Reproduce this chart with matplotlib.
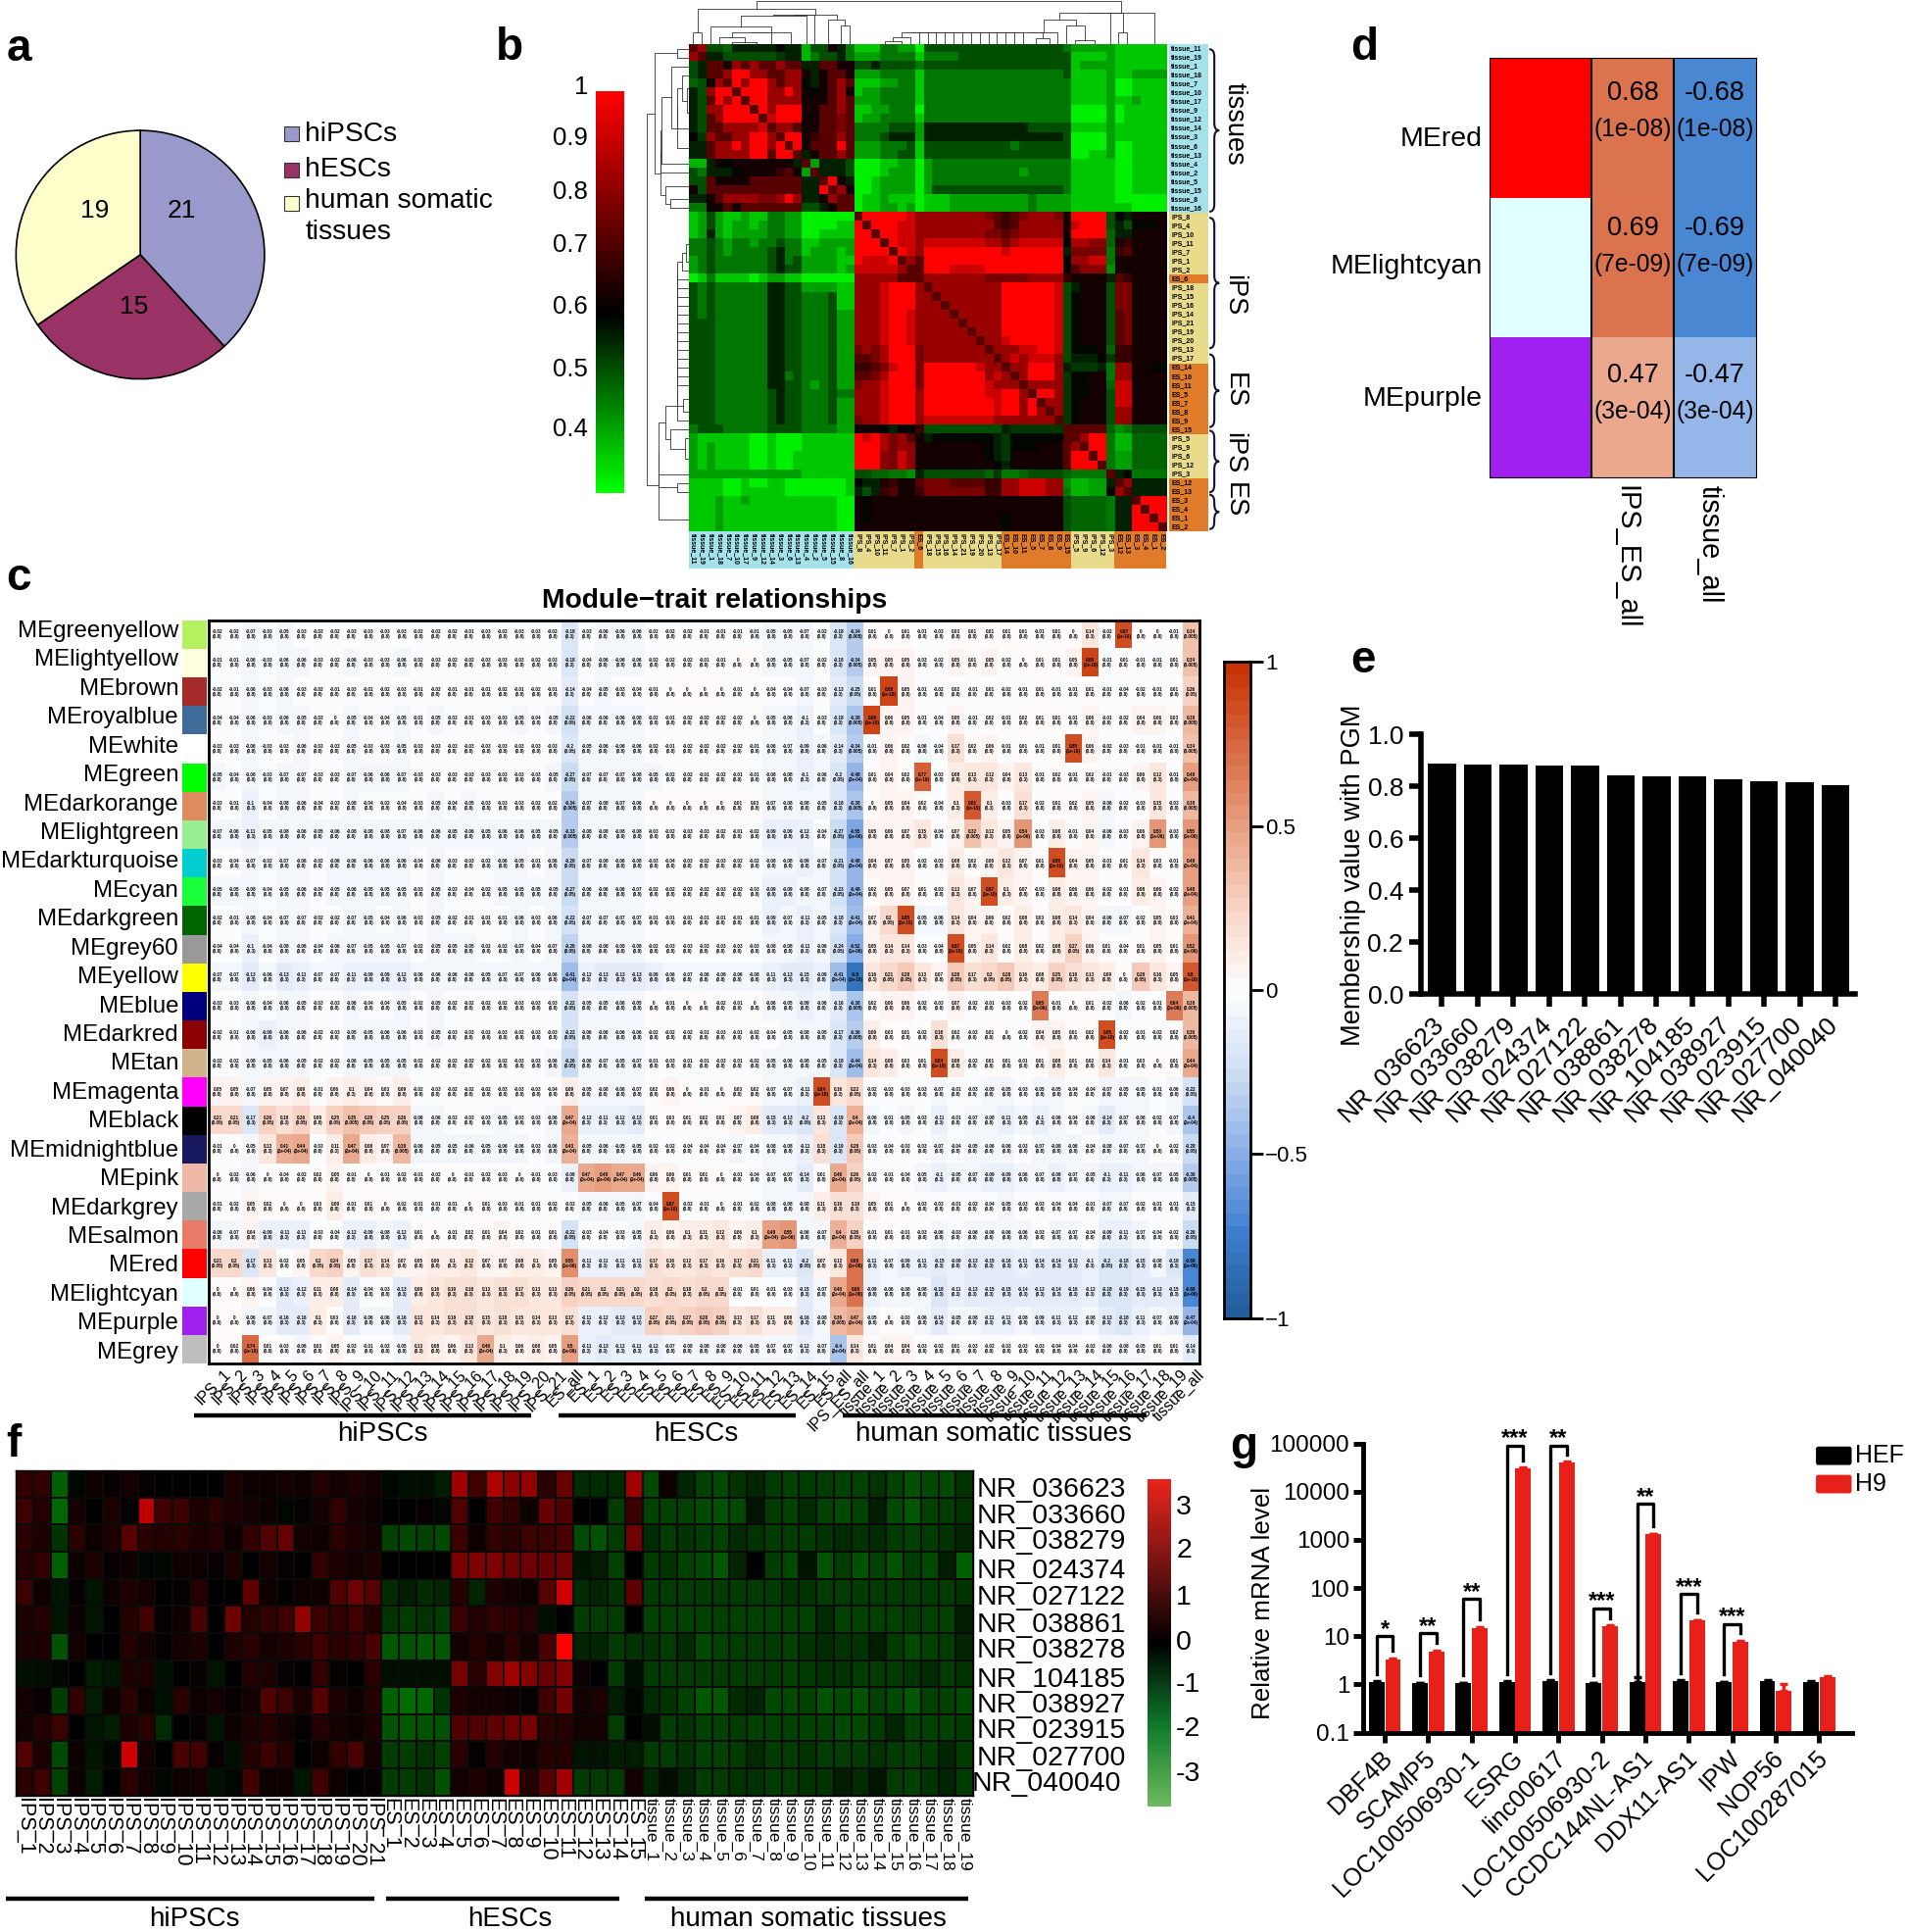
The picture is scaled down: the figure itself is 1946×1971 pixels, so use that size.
import numpy as np
import matplotlib
matplotlib.use('Agg')
import matplotlib.pyplot as plt
from matplotlib.colors import LinearSegmentedColormap
from matplotlib.path import Path
from matplotlib.patches import PathPatch, Rectangle, FancyBboxPatch
from matplotlib.transforms import ScaledTranslation

plt.rcParams['font.family'] = ['Liberation Sans', 'DejaVu Sans']

# ---- panel a
pie_names = ['hiPSCs', 'hESCs', 'human somatic\ntissues']
pie_values = [21, 15, 19]
pie_colors = ['#9999CC', '#993366', '#FFFFCC']

# ---- panel b: order of samples and correlation levels (0 bright green .. 9 bright red)
b_samples = ['tissue_11', 'tissue_19', 'tissue_1', 'tissue_18', 'tissue_7', 'tissue_10', 'tissue_17', 'tissue_9',
             'tissue_12', 'tissue_14', 'tissue_3', 'tissue_6', 'tissue_13', 'tissue_4', 'tissue_2', 'tissue_5',
             'tissue_15', 'tissue_8', 'tissue_16', 'IPS_8', 'IPS_4', 'IPS_10', 'IPS_11', 'IPS_7', 'IPS_1', 'IPS_2',
             'ES_6', 'IPS_18', 'IPS_15', 'IPS_16', 'IPS_14', 'IPS_21', 'IPS_19', 'IPS_20', 'IPS_13', 'IPS_17',
             'ES_14', 'ES_10', 'ES_11', 'ES_5', 'ES_7', 'ES_8', 'ES_9', 'ES_15', 'IPS_5', 'IPS_9', 'IPS_6',
             'IPS_12', 'IPS_3', 'ES_12', 'ES_13', 'ES_3', 'ES_4', 'ES_1', 'ES_2']
b_level_values = [.30, .35, .40, .45, .50, .56, .63, .74, .84, 1.0]
b_tissue = ['7844355555655 2 4 4 6 5 3', '8755444444555 1 3 4 4 5 3', '4577687877877 5 5 7 7 6 6',
            '4577899887788 6 5 6 7 7 6', '4468798998788 5 5 6 7 8 7', '5489979998898 6 5 6 7 8 6',
            '5479897998888 6 6 6 7 8 7', '5488999798999 6 6 7 7 8 7', '5478999979999 6 6 7 7 8 7',
            '5477888887887 6 6 7 7 7 7', '5487788998799 6 6 7 7 8 7', '5578898998979 6 7 7 7 9 7',
            '5578888997997 5 6 7 7 8 7', '1256666666665 7 2 5 5 5 4', '4355566666776 2 7 5 5 5 4',
            '4476666777777 5 5 7 9 6 5', '6477777777777 5 5 9 7 8 6', '5567888878898 5 5 6 8 7 7',
            '3366767777777 4 4 5 6 7 7']
b_cross = ['111 3322 0 444444444 4444444 3 2222 2 11 1111', '222 3333 1 333344444 4444444 4 1111 2 11 1111',
           '445 4444 3 444444444 4444444 4 1222 2 11 1111', '222 3333 1 333333333 3333333 4 1111 2 11 2222',
           '111 2233 1 333333333 3333333 3 1111 2 00 1111', '122 3333 1 333333333 3333333 3 1111 2 00 1111',
           '222 3333 1 333333333 3333333 3 1111 2 11 2111', '112 2333 0 333333333 3333333 3 0000 2 01 1111',
           '122 3333 1 333333333 3333333 3 0000 2 01 1111', '333 3444 2 555555555 5554444 4 1111 2 11 1111',
           '333 4555 2 555555555 5555555 4 0000 2 11 1111', '222 3334 1 444444444 4344444 4 0000 2 00 1111',
           '222 3344 1 444444444 4444444 4 0011 2 00 1111', '000 1122 0 233333333 3333333 3 1111 1 00 1111',
           '000 1222 0 233333333 3323333 3 1111 1 00 1111', '001 2222 0 233333333 3333333 3 1111 1 00 1111',
           '001 2222 0 244444444 4444444 3 1111 1 00 1111', '011 2111 0 111222222 2223222 2 1111 1 00 0000',
           '011 2212 0 111222222 2223222 2 1111 1 11 0000']
b_pluri = ['799 9998 8 888888887 7788887 6 9999 4 55 6666', '979 9988 8 888888887 6788888 6 8999 4 54 5556',
           '997 9988 8 888888877 7788888 6 9999 4 55 6666', '999 7988 8 888888877 7788888 6 9999 4 56 6666',
           '999 9799 8 999999999 9999999 5 7777 3 78 6666', '999 9978 7 999999999 9999999 6 8899 3 66 6666',
           '999 9887 7 999999999 9999999 6 8999 3 66 6666', '888 8877 7 888888888 8888888 7 6666 5 77 6666',
           '888 9999 8 788888888 9999998 4 5666 4 88 6666', '888 9999 8 878888888 9999998 4 5666 4 88 6666',
           '888 9999 8 887888888 9999998 4 5666 4 88 6666', '888 9998 8 888788888 9999998 4 5666 4 78 6666',
           '888 9998 8 888878888 9999998 4 5666 4 78 6666', '888 9998 8 888887888 9999998 4 5666 4 78 6666',
           '888 9998 8 888888788 9999998 4 5666 4 78 6666', '788 9999 7 888888878 8899998 4 5556 4 66 6666',
           '778 9999 7 888888887 8888888 4 5556 4 66 6666', '677 8899 7 999999888 7889998 5 4445 3 88 6666',
           '778 9999 7 999999989 8789998 5 5566 4 88 6666', '788 9999 7 999999988 8878888 5 5566 3 88 6666',
           '888 9999 8 999999989 9987998 5 5566 4 88 6666', '888 9999 8 999999999 9989788 5 5666 4 88 6666',
           '888 9999 8 999999999 9989878 5 5666 4 88 6666', '888 9999 8 999999998 8888887 5 5666 4 88 6666',
           '666 5555 6 444444444 5444444 7 7777 4 23 4444', '999 7886 6 566666665 5666666 7 7899 3 22 4444',
           '999 7886 6 666666665 5666666 7 8799 3 22 4444', '999 6886 6 666666665 5666666 7 9979 3 22 4444',
           '999 6886 6 666666665 5666666 7 9997 3 22 4444', '443 3332 5 444444435 3244444 3 3333 7 56 3333',
           '655 7666 7 777777777 8899988 3 1122 5 78 5555', '545 7666 6 777777777 8899988 3 1122 5 87 5555',
           '666 6666 6 666666666 6666666 4 3333 3 55 7999', '666 6666 6 666666666 6666666 4 3333 3 55 9799',
           '666 6666 6 666666666 5666666 4 3333 3 55 9979', '666 6666 6 666666666 5666666 4 3333 3 55 9997']
b_brace_labels = ['tissues', 'iPS', 'ES', 'iPS', 'ES']
b_cbar_labels = ['1', '0.9', '0.8', '0.7', '0.6', '0.5', '0.4']

# ---- panel c: module-trait correlations in hundredths
c_modules = ['greenyellow', 'lightyellow', 'brown', 'royalblue', 'white', 'green', 'darkorange', 'lightgreen',
             'darkturquoise', 'cyan', 'darkgreen', 'grey60', 'yellow', 'blue', 'darkred', 'tan', 'magenta', 'black',
             'midnightblue', 'pink', 'darkgrey', 'salmon', 'red', 'lightcyan', 'purple', 'grey']
c_swatches = ['#B5F060', '#FFFFE0', '#A52A2A', '#3F6C9A', '#FFFFFF', '#00FF00', '#E08A60', '#98EE90', '#00CED1',
              '#19FF3C', '#006400', '#999999', '#FFFF00', '#00007F', '#8B0000', '#D2B48C', '#FF00FF', '#000000',
              '#191960', '#F0B8A8', '#A9A9A9', '#E97A6A', '#FF0000', '#E0FFFF', '#A020F0', '#BEBEBE']
c_ips = [[-2, -2, -7, -3, -5, -3, -3, -2, -3, -3, -3, -3, -2, -2, -2, -1, -3, -2, -3, -3, -2, -18],
         [-1, -1, -6, -3, -6, -6, -3, -2, -6, -3, -3, -6, -2, -3, -2, -2, -3, -3, -3, -2, -3, -18],
         [-2, -1, -6, -3, -6, -3, -2, -1, -3, -1, -2, -3, -1, -2, -1, -1, -1, -2, -1, -2, -1, -14],
         [-4, -4, -6, -3, -6, -5, -3, 0, -5, -4, -4, -5, -1, -5, -3, -1, -3, -3, -5, -4, -5, -22],
         [-3, -3, -6, -3, -3, -6, -3, -3, -5, -3, -3, -5, -3, -3, -3, -3, -3, -3, -3, -3, -3, -20],
         [-5, -4, -8, -3, -7, -7, -3, -3, -7, -6, -6, -7, -3, -3, -3, -3, -3, -3, -3, -3, -5, -27],
         [-3, -1, -10, -4, -8, -6, -4, -3, -8, -4, -2, -4, -3, -5, -4, -5, -3, -3, -3, -2, -2, -34],
         [-7, -6, -11, -5, -8, -6, -5, -6, -8, -8, -8, -7, -6, -6, -5, -6, -5, -6, -6, -5, -5, -33],
         [-3, -4, -7, -2, -7, -6, -2, -6, -6, -6, -6, -6, -4, -6, -3, -3, -2, -6, -5, -1, -6, -28],
         [-5, -5, -8, -4, -5, -6, -4, -5, -6, -5, -5, -5, -3, -5, -3, -4, -2, -5, -5, -5, -5, -27],
         [-2, -1, -8, -4, -7, -7, -2, -2, -7, -5, -4, -6, -3, -5, -2, -1, -1, -1, -6, -3, -6, -22],
         [-4, -4, -10, -4, -8, -6, -4, -6, -7, -5, -5, -7, -2, -5, -5, -5, -2, -2, -7, -4, -7, -29],
         [-7, -7, -13, -6, -13, -11, -7, -7, -11, -9, -9, -12, -6, -6, -6, -6, -5, -7, -7, -6, -6, -41],
         [-3, -3, -6, -4, -6, -5, -3, -3, -6, -4, -4, -5, -2, -5, -2, -2, -2, -2, -3, -3, -3, -22],
         [-2, -1, -6, -9, -6, -6, -2, -3, -5, -5, -6, -6, -3, -5, -3, -3, -2, -3, -2, -3, -3, -22],
         [-2, -2, -8, -5, -6, -5, -2, -2, -6, -5, -5, -5, -2, -2, -2, -2, -2, -2, -3, -3, -6, -26],
         [5, 5, -7, 5, 7, 9, -1, 6, 10, 4, 3, 9, -2, -3, -2, -2, -2, -3, -3, -3, -4, 9],
         [21, 21, -17, 26, 18, 26, 9, 25, 35, 28, 25, 26, -6, -6, -3, -3, -3, -5, -3, -3, -6, 47],
         [-1, 0, -5, 13, 41, 44, -3, 11, 47, 8, 7, 38, -6, -5, -5, -6, -5, -6, -6, -3, -6, 43],
         [0, -2, -6, 0, -4, -2, 2, 5, -1, 0, -1, -2, -1, -2, 0, -1, -2, -3, 0, -1, -3, -9],
         [-1, -2, 5, 2, 0, 0, 3, 9, -1, 1, 0, -2, -1, -1, -1, 0, 1, -3, -1, -1, -2, -3],
         [-6, -7, 4, -9, -11, -11, -3, -4, -12, -9, -8, -12, 1, 0, -1, 2, 1, 4, 2, -1, 1, -22],
         [21, 20, -17, 13, -2, 5, 20, 24, 5, 17, 14, 7, 5, 9, 10, 12, 7, 7, 8, 10, 5, 56],
         [0, 0, 6, -4, -13, -12, 11, 8, -14, -4, -3, -13, 9, 16, 19, 18, 13, 18, 17, 13, 13, 26],
         [0, 0, -6, -7, -16, -16, 10, 3, -16, -6, -6, -16, 13, 14, 18, 18, 15, 18, 15, 14, 13, 17],
         [0, 2, 74, 1, -3, -6, 3, 5, -3, -1, -2, -5, 13, 8, 6, 13, 46, 10, 6, 8, 5, 50]]
c_es = [[-3, -6, -6, -6, -2, -2, -2, -1, -1, -1, -1, -5, -5, -7, -2, -18, -34],
        [-4, -6, -6, -6, -2, -2, -2, -1, -1, 0, 0, -5, -5, -7, -2, -18, -34],
        [-4, -5, -3, -4, -1, 0, 0, 0, 0, -1, 0, -4, -4, -7, -3, -13, -25],
        [-6, -6, -6, -8, -2, -1, -2, -2, -2, -2, 0, -5, -6, -10, -3, -18, -38],
        [-5, -6, -6, -6, -2, -1, -2, -2, -2, -2, -1, -6, -7, -9, -6, -14, -34],
        [-7, -7, -7, -8, -5, -2, -2, -1, -2, -1, -1, -8, -8, -10, -6, -20, -48],
        [-7, -8, -7, -6, 0, 0, 0, 0, 0, 1, 3, -7, -8, -8, -5, -18, -38],
        [-8, -8, -8, -8, -3, -2, -3, -3, -2, -1, -2, -9, -9, -12, -4, -27, -55],
        [-7, -8, -6, -8, -3, -4, -3, -2, -3, -2, -2, -8, -8, -9, -7, -21, -48],
        [-6, -6, -6, -7, -2, -2, -3, -2, -3, -2, -3, -9, -9, -8, -7, -23, -48],
        [-7, -7, -7, -7, -1, -1, -1, -1, -1, -1, -1, -9, -7, -11, -5, -18, -41],
        [-8, -8, -8, -8, -2, -3, -3, -3, -3, -3, -3, -8, -8, -11, -6, -24, -52],
        [-12, -13, -13, -13, -9, -6, -7, -6, -8, -6, -8, -11, -13, -15, -9, -41, -80],
        [-5, -5, -6, -5, 0, -1, 0, 0, -2, -1, 0, -6, -5, -9, -6, -16, -38],
        [-6, -6, -6, -6, -2, -2, -2, -1, -3, -1, -2, -4, -5, -8, -5, -17, -36],
        [-6, -7, -5, -7, -1, -3, -1, -1, -3, -1, -2, -5, -6, -8, -5, -18, -44],
        [-5, -8, -6, -7, 2, 6, 0, -1, 0, 3, 2, -7, -7, -11, 84, 16, 22],
        [-12, -11, -12, -13, 1, 3, 1, 2, 3, 7, 8, -15, -13, -20, 13, -19, 40],
        [-5, -6, -5, -5, -2, -2, -4, -4, -4, -7, -4, -8, -8, -11, 18, -19, 28],
        [47, 48, 47, 46, 6, 6, 1, 1, 0, -1, -4, -7, -7, -14, 1, 46, 26],
        [-5, -6, -5, -7, -4, 87, -3, -1, 0, -1, -2, -8, -8, -8, 11, 19, 19],
        [-3, -4, -3, -5, 10, 6, 10, 11, 12, 6, 10, 48, 55, -6, -7, 40, 26],
        [-11, -11, -11, -11, 17, 16, 12, 17, 16, 17, 21, -11, -11, -20, 7, 12, 68],
        [21, 20, 21, 20, 18, 20, 18, 20, 20, -1, 1, -1, -3, -15, -7, 46, 69],
        [-11, -12, -13, -13, 27, 21, 27, 28, 26, 13, 17, 11, 8, -16, -8, 36, 47],
        [-11, -13, -12, -11, -12, -7, -8, -8, -8, -6, -5, -7, -7, -12, -7, -40, 14]]
c_tis = [[1, 0, 1, -1, -3, 3, 1, 1, 1, 1, -1, 1, 0, 14, -2, 87, 0, 0, -1, 34],
         [5, 5, 5, -3, -2, 5, 1, 5, -2, 0, 1, 1, 5, 88, -1, 1, -1, -1, 1, 34],
         [1, 88, 5, -1, -2, 2, -1, 1, -2, -1, 1, -1, -1, 1, -1, -4, -2, -1, 1, 26],
         [89, 6, 5, -1, -4, 5, -1, 2, -1, 2, 1, 1, -1, 6, -1, -2, 4, 6, 3, 38],
         [-1, 6, 2, -6, -4, 17, 2, 6, -1, 1, -1, 1, 85, 6, -2, -3, -1, -1, -1, 34],
         [1, 4, 2, 77, -3, 8, 13, 12, 4, 13, -1, 2, -1, 2, -1, -3, 6, 12, -1, 48],
         [0, 5, 4, 2, -4, 10, 81, 10, -3, 17, -2, 1, 2, 5, -6, -2, -3, 15, -3, 38],
         [5, 6, 7, 15, -4, 7, 32, 12, 5, 54, -3, 8, -1, 4, -6, -3, 6, 53, -3, 55],
         [4, 7, 5, -2, -3, 8, 2, 6, 12, 7, 1, 85, 4, 5, -1, 1, 14, 3, -1, 48],
         [2, 5, 7, 1, -3, 13, 7, 87, 10, 7, -3, 8, 6, 6, -2, -1, 8, 6, -2, 48],
         [7, 20, 85, -5, -6, 14, 4, 6, 2, 8, 3, 8, 14, 4, -6, -7, -2, 5, 3, 41],
         [5, 14, 14, -3, -4, 87, 5, 14, 2, 8, 2, 8, 27, 6, 1, -4, 1, 5, 1, 52],
         [16, 21, 28, 13, 7, 28, 17, 20, 28, 16, 8, 25, 19, 13, 9, 0, 28, 16, 5, 80],
         [2, 6, 6, -2, -3, 7, -2, -1, -3, -2, 65, -1, 0, 1, -2, -6, -2, -1, 64, 38],
         [9, 3, 1, -2, 18, 2, -2, 1, 0, -2, 4, 5, 1, 2, 85, -2, -1, -2, 2, 36],
         [14, 8, 3, 1, 84, 8, -2, 1, 1, -1, 1, 8, 1, 2, 14, -1, 3, 0, 1, 44],
         [-2, -3, -3, -3, -7, -1, -3, -5, -5, -3, -5, -5, -4, -4, -7, -5, -5, -1, -6, -22],
         [-6, -1, -5, -3, -11, -1, -7, -8, -11, -5, -10, -6, -4, -6, -14, -7, -6, -2, -7, -40],
         [-3, -4, -3, -3, -7, -4, -5, -6, -6, -3, -7, -8, -6, -4, -8, -7, -7, 0, -2, -28],
         [-2, -1, -4, -5, -10, -5, -7, -9, -9, -6, -7, -9, -7, -5, -10, -11, -6, -7, -5, -36],
         [5, 1, 0, -3, -3, -1, -2, -4, -5, -3, -3, -4, -4, -1, -7, -7, -2, -1, -1, -15],
         [-1, 1, -1, -3, -6, -3, -6, -6, -6, -6, -3, -7, -7, -4, -9, -11, -7, -4, -2, -26],
         [-11, -7, -9, -11, -15, -9, -13, -15, -16, -11, -14, -14, -13, -10, -20, -18, -15, -8, -18, -68],
         [-9, -6, -8, -8, -18, -11, -13, -15, -15, -14, -13, -14, -16, -12, -18, -19, -15, -13, -15, -69],
         [-5, 0, -3, -6, -14, -5, -8, -11, -11, -8, -9, -11, -12, -8, -13, -18, -11, -7, -9, -47],
         [1, 4, 4, -3, -2, 1, -3, -2, -3, -3, -3, -4, -4, -2, -6, -8, -5, 1, 1, -14]]
c_traits = ['IPS_%d' % i for i in range(1, 22)] + ['ES_all'] + ['ES_%d' % i for i in range(1, 16)] + \
           ['ES_all', 'IPS_ES_all'] + ['tissue_%d' % i for i in range(1, 20)] + ['tissue_all']
c_cbar_ticks = [-1, -0.5, 0, 0.5, 1]
c_cbar_labels = ['\u22121', '\u22120.5', '0', '0.5', '1']

# ---- panel d
d_modules = ['MEred', 'MElightcyan', 'MEpurple']
d_swatches = ['#FF0000', '#E0FFFF', '#A020F0']
d_traits = ['IPS_ES_all', 'tissue_all']
d_values = [[0.68, -0.68], [0.69, -0.69], [0.47, -0.47]]
d_pvalues = ['(1e-08)', '(7e-09)', '(3e-04)']

# ---- panel e
nr_names = ['NR_036623', 'NR_033660', 'NR_038279', 'NR_024374', 'NR_027122', 'NR_038861', 'NR_038278', 'NR_104185',
            'NR_038927', 'NR_023915', 'NR_027700', 'NR_040040']
e_values = [0.89, 0.885, 0.885, 0.88, 0.88, 0.845, 0.84, 0.84, 0.83, 0.82, 0.815, 0.805]

# ---- panel f: expression z-scores in tenths, rows as in nr_names
f_samples = ['IPS_%d' % i for i in range(1, 22)] + ['ES_%d' % i for i in range(1, 16)] + \
            ['tissue_%d' % i for i in range(1, 20)]
f_ips = [[7, 7, -13, -1, 2, 1, 3, 1, 0, 0, 0, 0, 4, 2, 2, 3, 2, 5, 3, 4, 3],
         [8, 5, -14, 3, 0, 4, 0, 26, 9, 8, 4, 6, 4, 3, 2, -1, 1, 3, 7, 3, 2],
         [6, 4, -7, 6, 2, 4, 12, 6, 5, 6, 4, 5, 2, 7, 11, 14, 3, 2, 6, 4, 3],
         [5, 7, -13, 2, 4, 1, 2, -1, -1, 2, 2, 1, 4, 0, 3, 1, 0, 7, 4, 3, 4],
         [8, 2, -3, 1, -3, 2, 4, 3, 0, 1, 5, 0, 0, 13, 2, 0, 2, 2, 11, 15, 12],
         [4, 5, -3, 2, -3, 0, 5, 9, 1, 2, 10, 0, 15, 5, 7, 9, 20, 8, 7, 9, 5],
         [4, 4, -11, 3, 0, 0, 5, 3, 1, 3, 4, 0, 4, 6, 3, 4, 6, 9, 6, 7, 10],
         [-2, -2, -1, 0, -4, -3, 4, 4, -2, 0, 1, -3, 0, 5, 4, 1, 0, 7, 1, 0, 6],
         [3, 1, -8, 7, -4, 2, 6, 2, -2, 6, 2, 3, 1, 3, 11, 8, 4, 12, 4, 2, 5],
         [3, 5, 8, 0, -3, -4, 4, 6, -6, 0, 1, -3, 2, 4, 5, 3, 1, 5, 3, 2, 4],
         [11, 4, -10, 2, -3, -1, 28, 3, 0, 10, 9, 1, -2, 5, 8, 5, 0, 2, 7, 10, 3],
         [6, 9, -9, 2, -4, 0, 6, 3, -1, 2, 3, -2, -1, 9, 2, 2, -3, 9, 2, 0, 1]]
f_es = [[-1, -2, -2, -4, 22, 9, 24, 19, 20, 6, 14, -6, -6, -6, 22],
        [0, 0, 1, -1, 11, 0, 9, 7, 2, 14, 11, 0, 0, -8, 8],
        [-9, -10, -9, -10, 8, 2, 7, 6, 8, 8, 10, -10, -11, -8, 15],
        [0, 0, 0, 0, 17, 17, 17, 15, 15, 14, 15, -3, -4, -9, 0],
        [-6, -4, -6, -5, 5, -5, 4, 3, 2, 12, 28, -6, -5, -7, 13],
        [-7, -8, -7, -8, 8, 5, 7, 6, 5, -2, 0, -8, -8, -8, 0],
        [-12, -11, -12, -12, 3, 5, 3, 6, 3, 10, 35, -5, -5, -8, -7],
        [-2, -2, -2, -2, 16, 6, 18, 22, 18, 14, 18, 2, 0, -8, -2],
        [-13, -15, -14, -7, 4, 3, 3, 2, 1, 9, 16, 3, 4, -4, -1],
        [-11, -12, -11, -11, 11, 11, 13, 15, 16, 6, 5, 3, 3, -8, 0],
        [-8, -8, -7, -9, 6, 1, 5, 3, 2, 5, 5, -3, -3, -4, -4],
        [-8, -8, -7, -11, 3, 4, 2, 28, 5, 12, 22, -8, -8, -8, 3]]
f_tis = [[-10, 2, -5, -9, -10, -7, -5, -8, -9, -8, -8, -9, -9, -7, -9, -11, -10, -10, -7],
         [-9, -9, -9, -10, -11, -10, -3, -8, -9, -6, -9, -10, -9, -4, -10, -12, -9, -8, -7],
         [-6, -8, -7, -8, -9, -6, -7, -8, -8, -8, -7, -6, -7, -6, -8, -9, -8, -7, -5],
         [-8, -7, -9, -10, -12, -5, 0, -8, -10, -3, -11, -8, -11, -9, -11, -8, -10, -4, -13],
         [-8, -8, -8, -8, -8, -8, -8, -8, -7, -7, -8, -8, -8, -8, -8, -8, -8, -8, -7],
         [-9, -9, -9, -9, -9, -9, -9, -9, -9, -9, -6, -9, -9, -9, -9, -8, -9, -9, -4],
         [-7, -8, -6, -10, -9, -8, -8, -8, -9, -7, -6, -7, -7, -4, -8, -10, -9, -8, -5],
         [-8, -8, -8, -8, -8, -8, -8, -8, -9, -8, -7, -7, -8, -8, -8, -7, -6, -8, -7],
         [-6, -7, -9, -12, -12, -6, -5, -10, -10, -9, -11, -10, -11, -9, -10, -12, -9, -9, -10],
         [-2, -8, -7, -9, -9, -8, -9, -9, -9, -9, -9, -10, -10, -8, -5, -9, -9, -9, -8],
         [-8, -8, -7, -9, -9, -8, -6, -8, -8, -7, -8, -8, -8, -7, -8, -9, -8, -5, -8],
         [-5, -2, -5, -8, -8, -7, -7, -8, -8, -7, -7, -4, -6, -3, -8, -9, -7, -5, -8]]

# ---- panel g
g_genes = ['DBF4B', 'SCAMP5', 'LOC100506930-1', 'ESRG', 'linc00617', 'LOC100506930-2', 'CCDC144NL-AS1', 'DDX11-AS1',
           'IPW', 'NOP56', 'LOC100287015']
g_hef = [1.1, 1.05, 1.05, 1.1, 1.15, 1.05, 1.1, 1.15, 1.1, 1.15, 1.1]
g_hef_err = [0.05, 0.02, 0.02, 0.05, 0.06, 0.03, 0.35, 0.1, 0.04, 0.08, 0.06]
g_h9 = [3.3, 4.8, 15, 30000, 40000, 16, 1300, 21, 7.8, 0.75, 1.4]
g_h9_err = [0.2, 0.2, 0.8, 2000, 2000, 0.6, 50, 0.8, 0.3, 0.25, 0.08]
g_stars = ['*', '**', '**', '***', '**', '***', '**', '***', '***', '', '']
g_bracket_top = [10, 11.5, 60, 90000, 90000, 38, 5600, 75, 18, None, None]


SCALE_W, SCALE_H = 1550.0, 1570.0
fig = plt.figure(figsize=(19.46, 19.71), dpi=100)


def ax_at(x0, y0, x1, y1, **kw):
    return fig.add_axes([x0 / SCALE_W, 1 - y1 / SCALE_H, (x1 - x0) / SCALE_W, (y1 - y0) / SCALE_H], **kw)


over = ax_at(0, 0, SCALE_W, SCALE_H, zorder=50)
over.set_xlim(0, SCALE_W)
over.set_ylim(SCALE_H, 0)
over.axis('off')


def txt(x, y, s, size=20, **kw):
    kw.setdefault('ha', 'left')
    kw.setdefault('va', 'center')
    if 'rotation' not in kw:
        y = y + 2
    over.text(x, y, s, fontsize=size, color=kw.pop('color', 'black'), **kw)


def rule(x0, x1, y, lw=3.2):
    over.plot([x0, x1], [y, y], color='black', lw=lw, solid_capstyle='butt')


def shift_labels(ax, pts):
    for lab in ax.get_xticklabels():
        lab.set_transform(lab.get_transform() + ScaledTranslation(pts / 72, 0, fig.dpi_scale_trans))


for x, y, s in [(5, 38, 'a'), (403, 37, 'b'), (5, 468, 'c'), (1098, 37, 'd'), (1098, 535, 'e'), (5, 1172, 'f'),
                (1000, 1174, 'g')]:
    txt(x, y, s, size=33, fontweight='bold')

# ---- a
ax = ax_at(12, 105, 216, 309)
ax.pie(pie_values, colors=pie_colors, startangle=90, counterclock=False, radius=1,
       wedgeprops={'edgecolor': 'black', 'linewidth': 1.2})
ax.set_xlim(-1.01, 1.01)
ax.set_ylim(-1.01, 1.01)
for (x, y), v in zip([(148, 169), (109, 247), (77, 169)], pie_values):
    txt(x, y, str(v), size=19, ha='center')
for y, c in zip([109, 138, 165], pie_colors):
    over.add_patch(Rectangle((231, y - 6), 12, 12, fc=c, ec='#333333', lw=0.8))
txt(248, 107, pie_names[0], size=20.3)
txt(248, 136, pie_names[1], size=20.3)
txt(248, 174, pie_names[2], size=20.3, linespacing=1.31)

# ---- b
to_levels = lambda rows: np.array([[b_level_values[int(c)] for c in r.replace(' ', '')] for r in rows])
m_t, m_x, m_p = to_levels(b_tissue), to_levels(b_cross), to_levels(b_pluri)
m_t = (m_t + m_t.T) / 2
m_p = (m_p + m_p.T) / 2
b_matrix = np.block([[m_t, m_x], [m_x.T, m_p]])
cmap_b = LinearSegmentedColormap.from_list('gbr', [(0, '#00FF00'), (0.444, '#000000'), (1, '#FF0000')], N=128)
n_b = len(b_samples)

ax = ax_at(560, 36, 948, 432)
ax.imshow(b_matrix, cmap=cmap_b, vmin=0.28, vmax=1, aspect='auto', interpolation='nearest')
ax.axis('off')

b_side = {'t': '#A5E3EC', 'I': '#E8DC8C', 'E': '#E07B2A'}
ax = ax_at(950, 36, 982, 432)
ax.set_xlim(0, 1)
ax.set_ylim(n_b, 0)
ax.axis('off')
for i, s in enumerate(b_samples):
    ax.add_patch(Rectangle((0, i), 1, 1, fc=b_side[s[0]], ec='none'))
    ax.text(0.06, i + 0.5, s, fontsize=5, fontweight='bold', va='center')
ax = ax_at(560, 432, 948, 462)
ax.set_xlim(0, n_b)
ax.set_ylim(1, 0)
ax.axis('off')
for i, s in enumerate(b_samples):
    ax.add_patch(Rectangle((i, 0), 1, 1, fc=b_side[s[0]], ec='none'))
    ax.text(i + 0.5, 0.05, s, fontsize=5, fontweight='bold', rotation=270, ha='center', va='top')


def dendro_lines(m):
    nodes = [(i + 0.5, 0.0, [i]) for i in range(len(m))]
    lines = []
    while len(nodes) > 1:
        d = [1 - m[np.ix_(a[2], b[2])].mean() for a, b in zip(nodes, nodes[1:])]
        k = int(np.argmin(d))
        a, b = nodes[k], nodes[k + 1]
        h = max(d[k], a[1], b[1])
        lines.append(([a[0], a[0], b[0], b[0]], [a[1], h, h, b[1]]))
        nodes[k:k + 2] = [((a[0] + b[0]) / 2, h, a[2] + b[2])]
    return lines, nodes[0][1]


dlines, dtop = dendro_lines(b_matrix)
ax_top = ax_at(560, 1, 948, 36)
ax_top.set_xlim(0, n_b)
ax_top.set_ylim(0, dtop)
ax_top.axis('off')
ax_left = ax_at(526, 36, 560, 432)
ax_left.set_xlim(dtop, 0)
ax_left.set_ylim(n_b, 0)
ax_left.axis('off')
for xs, hs in dlines:
    ax_top.plot(xs, hs, color='#333333', lw=0.6)
    ax_left.plot(hs, xs, color='#333333', lw=0.6)

ax = ax_at(484, 74, 507, 401)
ax.imshow(np.linspace(1, 0.28, 128)[:, None], cmap=cmap_b, vmin=0.28, vmax=1, aspect='auto')
ax.axis('off')
for y, s in zip([69, 110, 154, 197, 247, 298, 347], b_cbar_labels):
    txt(478, y, s, size=18.5, ha='right')


def brace(x, y0, y1, w=4.0):
    mid = (y0 + y1) / 2
    verts = [(x, y0), (x + w, y0), (x + w, y0 + 6), (x + w, mid - 6), (x + w, mid), (x + 2 * w, mid),
             (x + w, mid), (x + w, mid + 6), (x + w, y1 - 6), (x + w, y1), (x, y1)]
    codes = [Path.MOVETO, Path.CURVE3, Path.CURVE3, Path.LINETO, Path.CURVE3, Path.CURVE3,
             Path.CURVE3, Path.CURVE3, Path.LINETO, Path.CURVE3, Path.CURVE3]
    over.add_patch(PathPatch(Path(verts, codes), fc='none', ec='#111133', lw=1.5))


for (y0, y1, yl), s in zip([(40, 172, 101), (177, 283, 240), (288, 347, 317), (350, 400, 368), (402, 430, 406)],
                           b_brace_labels):
    brace(983, y0, y1)
    txt(1003, yl, s, size=19.5, rotation=270, ha='center')

# ---- c
c_values = np.hstack([np.array(c_ips), np.array(c_es), np.array(c_tis)]) / 100.0
cmap_c = LinearSegmentedColormap.from_list('bwr', [(0, '#225E9C'), (0.125, '#3E80D0'), (0.25, '#8DB0E8'),
                                                   (0.375, '#CFDFF3'), (0.5, '#FFFFFF'), (0.625, '#F8D5C6'),
                                                   (0.75, '#E9A284'), (0.875, '#D96B45'), (1, '#C83200')], N=50)
n_mod, n_trait = c_values.shape
ax = ax_at(170, 504, 975, 1108)
ax.imshow(c_values, cmap=cmap_c, vmin=-1, vmax=1, aspect='auto', interpolation='nearest')
ax.set_xticks([])
ax.set_yticks([])
for sp in ax.spines.values():
    sp.set_linewidth(2)


def p_label(v):
    r = abs(v)
    for lim, s in [(.1, '(0.8)'), (.2, '(0.3)'), (.3, '(0.05)'), (.4, '(0.005)'), (.5, '(2e-04)'), (.7, '(1e-06)')]:
        if r < lim:
            return s
    return '(1e-10)'


for i in range(n_mod):
    for j in range(n_trait):
        ax.text(j, i, '%.2g\n%s' % (c_values[i, j], p_label(c_values[i, j])), fontsize=3.3, fontweight='bold',
                ha='center', va='center', linespacing=1.0, clip_on=True)

ax = ax_at(148, 504, 168, 1108)
ax.set_xlim(0, 1)
ax.set_ylim(n_mod, 0)
ax.axis('off')
for i, (m, c) in enumerate(zip(c_modules, c_swatches)):
    ax.add_patch(Rectangle((0, i), 1, 1, fc=c, ec='none'))
    txt(145, 511 + 23.44 * i, 'ME' + m, size=17.3, ha='right')

col_w = (975 - 170) / n_trait
for j, s in enumerate(c_traits):
    txt(170 + col_w * (j + 0.85), 1111, s, size=11.5, rotation=45, ha='right', va='top', rotation_mode='anchor')
txt(581, 486, 'Module\u2212trait relationships', size=20.3, ha='center', fontweight='bold')
rule(158, 432, 1150)
rule(454, 647, 1150)
rule(685, 932, 1150)
txt(311, 1163, 'hiPSCs', ha='center')
txt(566, 1163, 'hESCs', ha='center')
txt(808, 1163, 'human somatic tissues', ha='center')

ax = ax_at(995, 538, 1016, 1071)
ax.imshow(np.linspace(1, -1, 50)[:, None], cmap=cmap_c, vmin=-1, vmax=1, aspect='auto', extent=[0, 1, -1, 1])
ax.set_xticks([])
ax.yaxis.tick_right()
ax.set_yticks(c_cbar_ticks)
ax.set_yticklabels(c_cbar_labels, fontsize=16)
ax.tick_params(axis='y', length=9, width=2, pad=2)
for sp in ax.spines.values():
    sp.set_linewidth(2)

# ---- d
ax = ax_at(1211, 47, 1427, 388)
d_arr = np.array(d_values)
ax.set_xlim(0, 216)
ax.set_ylim(3, 0)
ax.set_xticks([])
ax.set_yticks([])
d_shift = [0.015, -0.02, 0.03]
for i in range(3):
    ax.add_patch(Rectangle((0, i), 82, 1, fc=d_swatches[i], ec='none'))
    ax.add_patch(Rectangle((83, i), 66, 1, fc=cmap_c((d_arr[i, 0] + 1) / 2), ec='none'))
    ax.add_patch(Rectangle((150, i), 66, 1, fc=cmap_c((d_arr[i, 1] + 1) / 2), ec='none'))
    for j, xc in enumerate([116, 183]):
        ax.text(xc, i + 0.24 + d_shift[i], '%.2f' % d_arr[i, j], fontsize=19.5, ha='center', va='center')
        ax.text(xc, i + 0.5 + d_shift[i], d_pvalues[i], fontsize=17.7, ha='center', va='center')
ax.axvline(82.5, color='black', lw=1.5)
ax.axvline(149.5, color='black', lw=1.5)
for y, m in zip([111, 215, 322], d_modules):
    txt(1205, y, m, size=20.5, ha='right')
txt(1322, 394, d_traits[0], size=20.8, rotation=270, ha='center', va='top')
txt(1390, 394, d_traits[1], size=20.8, rotation=270, ha='center', va='top')

# ---- e
ax = ax_at(1155, 597, 1508, 808)
ax.bar(range(12), e_values, width=0.78, color='black')
ax.set_xlim(-0.58, 11.55)
ax.set_ylim(0, 1)
ax.set_yticks([0, 0.2, 0.4, 0.6, 0.8, 1.0])
ax.set_yticklabels(['0.0', '0.2', '0.4', '0.6', '0.8', '1.0'], fontsize=19)
ax.set_xticks(range(12))
ax.set_xticklabels(nr_names, fontsize=19, rotation=45, ha='right', rotation_mode='anchor')
ax.tick_params(length=9, width=4, pad=4)
shift_labels(ax, -7)
for s in ['top', 'right']:
    ax.spines[s].set_visible(False)
for s in ['left', 'bottom']:
    ax.spines[s].set_linewidth(4)
txt(1100, 711, 'Membership value with PGM', size=19.6, rotation=90, ha='center')

# ---- f
f_values = np.hstack([np.array(f_ips), np.array(f_es), np.array(f_tis)]) / 10.0
cmap_f = LinearSegmentedColormap.from_list('gkr', ['#00FF00', '#000000', '#FF0000'], N=256)
cmap_fbar = LinearSegmentedColormap.from_list('gkr2', ['#6DBB5E', '#0F7A2A', '#000000', '#7A1414', '#E8251C'], N=256)
ax = ax_at(13, 1195, 791, 1459)
ax.pcolormesh(f_values[::-1], cmap=cmap_f, vmin=-3.5, vmax=3.5, edgecolors='#0A0A0A', linewidth=1.1)
ax.set_xticks([])
ax.set_yticks([])
for sp in ax.spines.values():
    sp.set_linewidth(1)
n_f = len(f_samples)
fw = (791 - 13) / n_f
for j, s in enumerate(f_samples):
    narrow = ['Liberation Sans Narrow', 'Liberation Sans']
    txt(13 + fw * (j + 0.5), 1461, s, size=12.5 if s[0] == 't' else 15.5, rotation=270, ha='center', va='top',
        family=narrow)
for i, (s, y) in enumerate(zip(nr_names, [1209, 1230, 1251, 1275, 1296, 1319, 1339, 1363, 1384, 1405, 1427, 1448])):
    txt(794 if i < 11 else 790, y, s, size=20.5)
rule(5, 304, 1543)
rule(314, 503, 1543)
rule(524, 787, 1543)
txt(158, 1558, 'hiPSCs', ha='center')
txt(414, 1558, 'hESCs', ha='center')
txt(657, 1558, 'human somatic tissues', ha='center')
ax = ax_at(933, 1202, 952, 1468)
ax.imshow(np.linspace(3.6, -3.6, 256)[:, None], cmap=cmap_fbar, vmin=-3.6, vmax=3.6, aspect='auto')
ax.axis('off')
for y, s in zip([1223, 1258, 1296, 1333, 1367, 1403, 1440], ['3', '2', '1', '0', '-1', '-2', '-3']):
    txt(956, y, s, size=20.5)

# ---- g
ax = ax_at(1108, 1173, 1505, 1408)
ax.set_yscale('log')
pos = np.arange(len(g_genes))
ax.bar(pos - 0.19, g_hef, width=0.36, color='black')
ax.bar(pos + 0.19, g_h9, width=0.36, color='#E8201A')
ax.errorbar(pos - 0.19, g_hef, yerr=[[0] * 11, g_hef_err], fmt='none', ecolor='black', elinewidth=2.5, capsize=3,
            capthick=2.5)
ax.errorbar(pos + 0.19, g_h9, yerr=[[0] * 11, g_h9_err], fmt='none', ecolor='#E8201A', elinewidth=2.5, capsize=3,
            capthick=2.5)
for i, top in enumerate(g_bracket_top):
    if top is None:
        continue
    ax.plot([i - 0.19, i - 0.19, i + 0.19, i + 0.19], [g_hef[i] * 1.5, top, top, g_h9[i] * 1.5], color='black', lw=2.4,
            clip_on=False)
    ax.annotate(g_stars[i], (i, top), xytext=(0, 5), textcoords='offset points', fontsize=17, fontweight='bold',
                ha='center', va='center', annotation_clip=False)
ax.set_xlim(-0.496, 10.75)
ax.set_ylim(0.1, 100000)
ax.set_yticks([0.1, 1, 10, 100, 1000, 10000, 100000])
ax.set_yticklabels(['0.1', '1', '10', '100', '1000', '10000', '100000'], fontsize=17.5)
ax.minorticks_off()
ax.set_xticks(pos)
ax.set_xticklabels(g_genes, fontsize=18, rotation=45, ha='right', rotation_mode='anchor')
ax.tick_params(length=7, width=3.5, pad=3)
shift_labels(ax, -3)
for s in ['top', 'right']:
    ax.spines[s].set_visible(False)
for s in ['left', 'bottom']:
    ax.spines[s].set_linewidth(3.5)
txt(1027, 1303, 'Relative mRNA level', size=18.7, rotation=90, ha='center')
for y, c, s in [(1183, 'black', 'HEF'), (1206, '#E8201A', 'H9')]:
    over.add_patch(FancyBboxPatch((1478, y - 5.5), 25, 11, boxstyle='round,pad=2', fc=c, ec='none'))
    txt(1508, y - 2, s, size=18)

fig.savefig('out.png', dpi=100)
